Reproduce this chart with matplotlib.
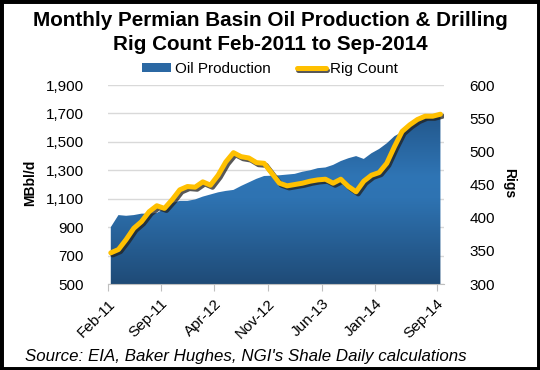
import numpy as np
import matplotlib
matplotlib.use('Agg')
import matplotlib.pyplot as plt
import matplotlib.patheffects as pe
from matplotlib.colors import LinearSegmentedColormap
from matplotlib.patches import Patch, Rectangle
from matplotlib.lines import Line2D
from matplotlib.ticker import FuncFormatter

plt.rcParams['font.family'] = ['Liberation Sans', 'DejaVu Sans']

# monthly values, Feb-2011 .. Sep-2014
oil_production = [900, 985, 980, 985, 995, 995, 1000, 1030, 1070, 1085,
                  1085, 1095, 1115, 1130, 1145, 1155, 1162, 1190, 1215, 1240,
                  1260, 1262, 1265, 1270, 1275, 1290, 1300, 1315, 1320, 1338,
                  1365, 1385, 1400, 1380, 1420, 1450, 1490, 1540, 1570, 1620,
                  1650, 1675, 1690, 1700]
rig_count = [347, 352, 367, 384, 394, 409, 418, 414, 427, 442,
             447, 446, 454, 449, 464, 484, 498, 492, 490, 483,
             482, 467, 452, 448, 450, 452, 455, 457, 458, 452,
             458, 447, 439, 455, 464, 468, 482, 507, 530, 540,
             548, 553, 553, 556]
tick_labels = ['Feb-11', 'Sep-11', 'Apr-12', 'Nov-12', 'Jun-13', 'Jan-14', 'Sep-14']
tick_pos = [-0.4, 6.5, 13.5, 20.5, 27.5, 34.5, 42.5]

x = np.arange(len(oil_production))

fig = plt.figure(figsize=(5.4, 3.7), dpi=100)
ax = fig.add_axes([0.1995, 0.2324, 0.6232, 0.5378])

# gradient filled area
poly = ax.fill_between(x, oil_production, 500, color='none', lw=0, zorder=2)
cmap = LinearSegmentedColormap.from_list('area', [(0.0, '#1f4b77'), (0.5, '#2e73b2'),
                                                   (0.62, '#2f75b5'), (1.0, '#22568a')])
grad = np.linspace(0, 1, 256).reshape(-1, 1)
img = ax.imshow(grad, cmap=cmap, aspect='auto', origin='lower',
                extent=[-0.5, 43.5, 500, 1710], zorder=2)
img.set_clip_path(poly.get_paths()[0], transform=ax.transData)

ax.set_xlim(-0.4, 43.5)
ax.set_ylim(500, 1900)
ax.set_yticks(range(500, 1901, 200))
ax.yaxis.set_major_formatter(FuncFormatter(lambda v, p: '{:,.0f}'.format(v)))
ax.grid(axis='y', color='#d9d9d9', lw=1, zorder=0)
ax.set_axisbelow(True)
for s in ['left', 'right', 'top']:
    ax.spines[s].set_visible(False)
ax.spines['bottom'].set_color('#bfbfbf')
ax.tick_params(axis='y', length=0, pad=17, labelsize=11)
ax.set_xticks(tick_pos)
ax.set_xticklabels(tick_labels, rotation=45, ha='right', rotation_mode='anchor', fontsize=11)
ax.tick_params(axis='x', length=5, color='#bfbfbf', pad=4)

ax2 = ax.twinx()
ax2.plot(x, rig_count, color='#ffc000', lw=3.6, solid_joinstyle='round', solid_capstyle='round',
         path_effects=[pe.SimpleLineShadow(offset=(1.5, -1.5), shadow_color='#202020', alpha=0.75),
                       pe.Normal()], zorder=3)
ax2.set_ylim(300, 600)
ax2.set_yticks(range(300, 601, 50))
ax2.tick_params(axis='y', length=0, pad=18, labelsize=11)
for s in ['left', 'right', 'top', 'bottom']:
    ax2.spines[s].set_visible(False)

fig.text(0.5, 1 - 21 / 370, 'Monthly Permian Basin Oil Production & Drilling',
         ha='center', va='center', fontsize=14.9, weight='bold')
fig.text(0.5, 1 - 45 / 370, 'Rig Count Feb-2011 to Sep-2014',
         ha='center', va='center', fontsize=14.9, weight='bold')

handles = [Patch(facecolor='#2b68a3', edgecolor='none', label='Oil Production'),
           Line2D([], [], color='#ffc000', lw=3.6, solid_capstyle='round',
                  path_effects=[pe.SimpleLineShadow(offset=(1, -1), shadow_color='#202020', alpha=0.75),
                                pe.Normal()], label='Rig Count')]
fig.legend(handles=handles, loc='center', bbox_to_anchor=(0.5, 1 - 69 / 370), ncol=2,
           frameon=False, fontsize=11, handlelength=1.9, handleheight=0.45,
           handletextpad=0.25, columnspacing=1.7)

fig.text(30 / 540, 1 - 183 / 370, 'MBbl/d', rotation=90, ha='center', va='center',
         fontsize=10, weight='bold')
fig.text(509 / 540, 1 - 183 / 370, 'Rigs', rotation=-90, ha='center', va='center',
         fontsize=10, weight='bold')

fig.text(25 / 540, 1 - 356 / 370, "Source: EIA, Baker Hughes, NGI's Shale Daily calculations",
         ha='left', va='center', fontsize=12.2, style='italic')

fig.patches.append(Rectangle((0, 0), 1, 1, transform=fig.transFigure, fill=False,
                             edgecolor='black', lw=5, zorder=10))

fig.savefig('out.png', dpi=100)
